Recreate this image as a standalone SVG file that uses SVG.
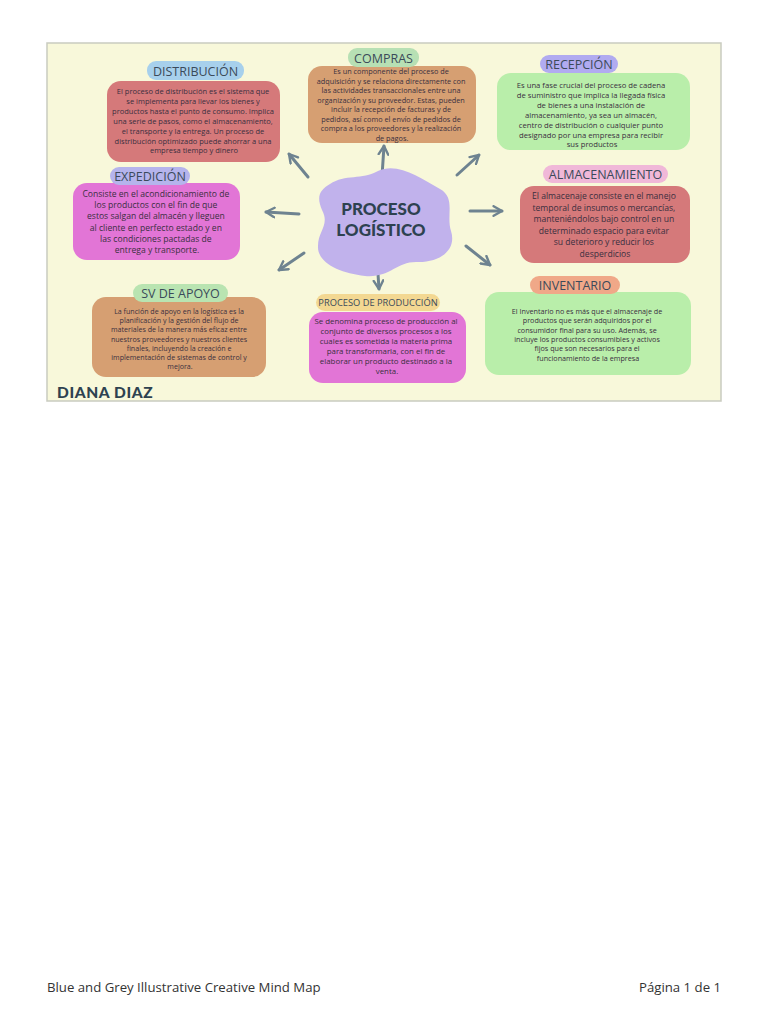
<svg xmlns="http://www.w3.org/2000/svg" width="768" height="1024" viewBox="0 0 768 1024">
<defs>
<style>
.frame{fill:#f8f8da;stroke:#c9cbc0;stroke-width:1.5}
.box{rx:14;ry:14}
.red{fill:#d5797a}
.tan{fill:#d69f72}
.green{fill:#b9eeaa}
.mag{fill:#e275d6}
.pill{rx:9;ry:9}
.lbl{font-family:"Open Sans","Liberation Sans",sans-serif;font-size:12.5px;fill:#3b4a5a;text-anchor:middle}
.lbl.small{font-size:9.3px}
.body{font-family:"Open Sans","Liberation Sans",sans-serif;fill:#3a2f3f;text-anchor:middle}
.title{font-family:Lato,"Open Sans",sans-serif;font-weight:900;font-size:17px;fill:#2e4250;text-anchor:middle}
.conn{stroke:#6e8390;stroke-width:3;fill:none;stroke-linecap:round}
.foot{font-family:"Open Sans","Liberation Sans",sans-serif;font-size:13.2px;fill:#333}
</style>
<marker id="ah" viewBox="0 0 10 10" refX="8" refY="5" markerWidth="4" markerHeight="4" orient="auto" markerUnits="strokeWidth">
<path d="M1,1 L8,5 L1,9" fill="none" stroke="#6e8390" stroke-width="2" stroke-linecap="round" stroke-linejoin="round"/>
</marker>
</defs>
<rect x="0" y="0" width="768" height="1024" fill="#ffffff"/>
<rect class="frame" x="47" y="43" width="674" height="358"/>

<g id="connectors">
<line class="conn" x1="382" y1="176" x2="384" y2="146" marker-end="url(#ah)"/>
<line class="conn" x1="308" y1="177" x2="289" y2="154" marker-end="url(#ah)"/>
<line class="conn" x1="457" y1="175" x2="479" y2="155" marker-end="url(#ah)"/>
<line class="conn" x1="299" y1="214" x2="266" y2="212" marker-end="url(#ah)"/>
<line class="conn" x1="470" y1="211" x2="502" y2="211" marker-end="url(#ah)"/>
<line class="conn" x1="304" y1="253" x2="279" y2="270" marker-end="url(#ah)"/>
<line class="conn" x1="466" y1="246" x2="490" y2="265" marker-end="url(#ah)"/>
<line class="conn" x1="377" y1="259" x2="379" y2="289" marker-end="url(#ah)"/>
</g>

<g id="center">
<path d="M330 184 C345 174 362 180 378 171 C398 162 420 178 440 189 C456 198 446 215 451 231 C457 250 440 263 416 262 C396 262 390 278 365 276 C340 273 317 263 318 246 C318 231 330 225 322 210 C316 196 320 190 330 184 Z" fill="#c1b2ec"/>
<text class="title" x="381" y="215">PROCESO</text>
<text class="title" x="381" y="236">LOGÍSTICO</text>
</g>

<g id="distribucion">
<rect class="box red" x="107" y="81" width="173" height="81"/>
<rect class="pill" x="147" y="61" width="97" height="19" fill="#a7d0ec"/>
<text class="lbl" x="195.5" y="75.5">DISTRIBUCIÓN</text>
<text class="body" font-size="7.5">
<tspan x="194" y="94">El proceso de distribución es el sistema que</tspan>
<tspan x="194" y="104">se implementa para llevar los bienes y</tspan>
<tspan x="194" y="114">productos hasta el punto de consumo. Implica</tspan>
<tspan x="194" y="124">una serie de pasos, como el almacenamiento,</tspan>
<tspan x="194" y="134">el transporte y la entrega. Un proceso de</tspan>
<tspan x="194" y="144">distribución optimizado puede ahorrar a una</tspan>
<tspan x="194" y="153">empresa tiempo y dinero</tspan>
</text>
</g>

<g id="compras">
<rect class="box tan" x="308" y="66" width="168" height="77"/>
<rect class="pill" x="348" y="48" width="71" height="19" fill="#b7e0b4"/>
<text class="lbl" x="383.5" y="62.5">COMPRAS</text>
<text class="body" font-size="7.3">
<tspan x="392" y="74">Es un componente del proceso de</tspan>
<tspan x="392" y="83.5">adquisición y se relaciona directamente con</tspan>
<tspan x="392" y="93">las actividades transaccionales entre una</tspan>
<tspan x="392" y="102.5">organización y su proveedor. Estas, pueden</tspan>
<tspan x="392" y="112">incluir la recepción de facturas y de</tspan>
<tspan x="392" y="121.5">pedidos, así como el envío de pedidos de</tspan>
<tspan x="392" y="131">compra a los proveedores y la realización</tspan>
<tspan x="392" y="140.5">de pagos.</tspan>
</text>
</g>

<g id="recepcion">
<rect class="box green" x="497" y="73" width="193" height="77"/>
<rect class="pill" x="540" y="55" width="78" height="18" fill="#b1abf0"/>
<text class="lbl" x="579" y="69">RECEPCIÓN</text>
<text class="body" font-size="7.7">
<tspan x="592" y="88">Es una fase crucial del proceso de cadena</tspan>
<tspan x="592" y="98">de suministro que implica la llegada física</tspan>
<tspan x="592" y="108">de bienes a una instalación de</tspan>
<tspan x="592" y="118">almacenamiento, ya sea un almacén,</tspan>
<tspan x="592" y="128">centro de distribución o cualquier punto</tspan>
<tspan x="592" y="138">designado por una empresa para recibir</tspan>
<tspan x="592" y="147">sus productos</tspan>
</text>
</g>

<g id="expedicion">
<rect class="box mag" x="73" y="183" width="167" height="77"/>
<rect class="pill" x="110" y="167" width="80" height="18" fill="#b5b4ec"/>
<text class="lbl" x="150" y="181">EXPEDICIÓN</text>
<text class="body" font-size="8.6">
<tspan x="157" y="197">Consiste en el acondicionamiento de</tspan>
<tspan x="157" y="208.2">los productos con el fin de que</tspan>
<tspan x="157" y="219.4">estos salgan del almacén y lleguen</tspan>
<tspan x="157" y="230.6">al cliente en perfecto estado y en</tspan>
<tspan x="157" y="241.8">las condiciones pactadas de</tspan>
<tspan x="157" y="253">entrega y transporte.</tspan>
</text>
</g>

<g id="almacenamiento">
<rect class="box red" x="520" y="186" width="170" height="77"/>
<rect class="pill" x="543" y="165" width="125" height="18" fill="#f0b8d8"/>
<text class="lbl" x="605.5" y="179">ALMACENAMIENTO</text>
<text class="body" font-size="8.6">
<tspan x="605" y="199">El almacenaje consiste en el manejo</tspan>
<tspan x="605" y="210.5">temporal de insumos o mercancías,</tspan>
<tspan x="605" y="222">manteniéndolos bajo control en un</tspan>
<tspan x="605" y="233.5">determinado espacio para evitar</tspan>
<tspan x="605" y="245">su deterioro y reducir los</tspan>
<tspan x="605" y="256.5">desperdicios</tspan>
</text>
</g>

<g id="sv-apoyo">
<rect class="box tan" x="92" y="297" width="174" height="80"/>
<rect class="pill" x="133" y="284" width="95" height="18" fill="#b9e4b1"/>
<text class="lbl" x="180.5" y="298">SV DE APOYO</text>
<text class="body" font-size="7.1">
<tspan x="180" y="314">La función de apoyo en la logística es la</tspan>
<tspan x="180" y="323.2">planificación y la gestión del flujo de</tspan>
<tspan x="180" y="332.4">materiales de la manera más eficaz entre</tspan>
<tspan x="180" y="341.6">nuestros proveedores y nuestros clientes</tspan>
<tspan x="180" y="350.8">finales, incluyendo la creación e</tspan>
<tspan x="180" y="360">implementación de sistemas de control y</tspan>
<tspan x="180" y="369.2">mejora.</tspan>
</text>
</g>

<g id="produccion">
<rect class="box mag" x="309" y="312" width="157" height="71"/>
<rect class="pill" x="316" y="294" width="124" height="17" fill="#f3d892"/>
<text class="lbl small" x="378" y="306">PROCESO DE PRODUCCIÓN</text>
<text class="body" font-size="7.9">
<tspan x="387" y="323.5">Se denomina proceso de producción al</tspan>
<tspan x="387" y="333.5">conjunto de diversos procesos a los</tspan>
<tspan x="387" y="343.5">cuales es sometida la materia prima</tspan>
<tspan x="387" y="353.5">para transformarla, con el fin de</tspan>
<tspan x="387" y="363.5">elaborar un producto destinado a la</tspan>
<tspan x="387" y="373.5">venta.</tspan>
</text>
</g>

<g id="inventario">
<rect class="box green" x="485" y="292" width="206" height="83"/>
<rect class="pill" x="530" y="276" width="90" height="18" fill="#f0a888"/>
<text class="lbl" x="575" y="290">INVENTARIO</text>
<text class="body" font-size="7.2">
<tspan x="588" y="314">El Inventario no es más que el almacenaje de</tspan>
<tspan x="588" y="323.3">productos que serán adquiridos por el</tspan>
<tspan x="588" y="332.6">consumidor final para su uso. Además, se</tspan>
<tspan x="588" y="341.9">incluye los productos consumibles y activos</tspan>
<tspan x="588" y="351.2">fijos que son necesarios para el</tspan>
<tspan x="588" y="360.5">funcionamiento de la empresa</tspan>
</text>
</g>

<text x="57" y="398" font-family="Lato,'Open Sans',sans-serif" font-weight="900" font-size="15.5" letter-spacing="0.6" fill="#2e4250">DIANA DIAZ</text>

<text class="foot" x="47" y="992">Blue and Grey Illustrative Creative Mind Map</text>
<text class="foot" x="721" y="992" text-anchor="end">Página 1 de 1</text>
</svg>
